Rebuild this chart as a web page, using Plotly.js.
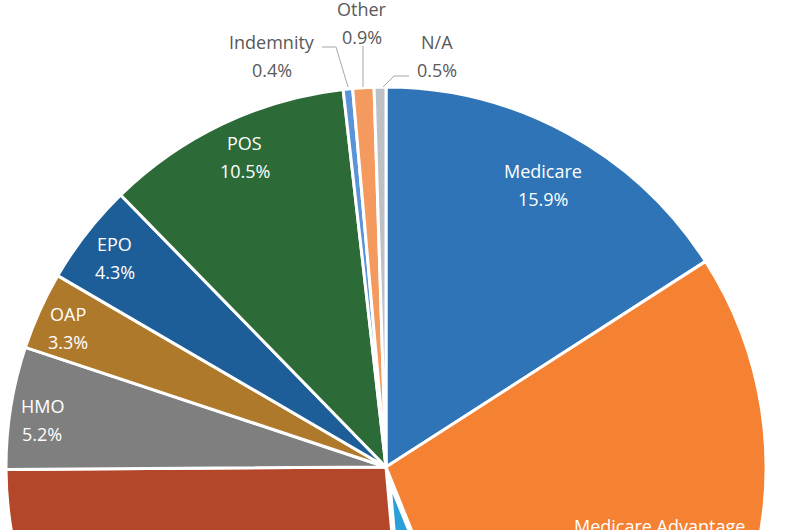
<!DOCTYPE html>
<html><head><meta charset="utf-8">
<script src="https://cdn.plot.ly/plotly-3.0.1.min.js"></script>
<style>
html,body{margin:0;padding:0;overflow:hidden;width:800px;height:530px;background:#fff}
#chart{position:absolute;left:-200px;top:-200px;width:1200px;height:1200px}
</style>
</head><body><div id="chart"></div>
<script>
// ---- data (clockwise from 12 o'clock) ----
const categories = ["Medicare","Medicare Advantage","Medicaid","PPO","HMO","OAP","EPO","POS","Indemnity","Other","N/A"];
const shares = [15.9, 28.0, 4.7, 26.3, 5.2, 3.3, 4.3, 10.5, 0.4, 0.9, 0.5];
const valueLabels = ["15.9%","28.0%","4.7%","26.3%","5.2%","3.3%","4.3%","10.5%","0.4%","0.9%","0.5%"];

// ---- styles ----
const colors = ["#2E74B7","#F58233","#2A9FD8","#B4472A","#7F7F7F","#AF792B","#1D5E98","#2C6B37","#5B93D8","#F59A5E","#BDC1C6"];
const pulls  = [0,0,0.045,0,0,0,0,0,0,0,0];

// geometry in viewport pixels
const W = 1200, H = 1200, OFFX = 200, OFFY = 200;
const CX = 386, CY = 467, R = 380;
const maxPull = Math.max(...pulls);
const S = 2 * R * (1 + maxPull);
const px = x => (x + OFFX) / W;
const py = y => 1 - (y + OFFY) / H;

// inside label placement: [radius fraction, angle shift (deg)]
const insidePlace = {"Medicare":[0.85,0.4],"Medicare Advantage":[0.744,-2.64],"Medicaid":[0.85,0],"PPO":[0.85,0],
  "HMO":[0.913,-1.2],"OAP":[0.913,-0.7],"EPO":[0.9,-0.4],"POS":[0.896,0.9]};
// outside label centres (viewport px) and leader lines
const outsidePlace = {"Indemnity":[272,56],"Other":[362,23],"N/A":[437,56]};
const leaders = [
  [[322,47],[336,47],[348,87]],
  [[363,46],[363,87]],
  [[409,76],[394,76],[383,87]]
];

const total = shares.reduce((a,b)=>a+b,0);
const annotations = [];
let cum = 0;
const LINE = 14;
categories.forEach((c,i) => {
  const mid = (cum + shares[i]/2) / total * 360;
  cum += shares[i];
  let x, y, col;
  if (insidePlace[c]) {
    const [rf, sh] = insidePlace[c];
    const a = (mid + sh) * Math.PI / 180;
    x = CX + rf * R * Math.sin(a);
    y = CY - rf * R * Math.cos(a);
    col = "#FFFFFF";
  } else {
    [x, y] = outsidePlace[c];
    col = "#595959";
  }
  [[c, y - LINE], [valueLabels[i], y + LINE]].forEach(([t, yy]) => {
    annotations.push({text: t, x: px(x), y: py(yy), xref: "paper", yref: "paper",
      showarrow: false, xanchor: "center", yanchor: "middle",
      font: {family: "Open Sans, sans-serif", size: 18, color: col}});
  });
});

const shapes = leaders.map(pts => ({
  type: "path", xref: "paper", yref: "paper",
  path: pts.map((p,k) => (k ? "L" : "M") + px(p[0]) + "," + py(p[1])).join(" "),
  line: {color: "#A6A6A6", width: 1}
}));

const trace = {
  type: "pie",
  labels: categories,
  values: shares,
  sort: false,
  direction: "clockwise",
  rotation: 0,
  pull: pulls,
  textinfo: "none",
  hoverinfo: "label+percent",
  marker: {colors: colors, line: {color: "#FFFFFF", width: 3}},
  domain: {
    x: [(CX + OFFX - S/2) / W, (CX + OFFX + S/2) / W],
    y: [1 - (CY + OFFY + S/2) / H, 1 - (CY + OFFY - S/2) / H]
  }
};

Plotly.newPlot("chart", [trace], {
  width: W, height: H,
  margin: {l:0, r:0, t:0, b:0},
  showlegend: false,
  paper_bgcolor: "#FFFFFF",
  annotations: annotations,
  shapes: shapes
}, {displayModeBar: false, staticPlot: true});
</script>
</body></html>
